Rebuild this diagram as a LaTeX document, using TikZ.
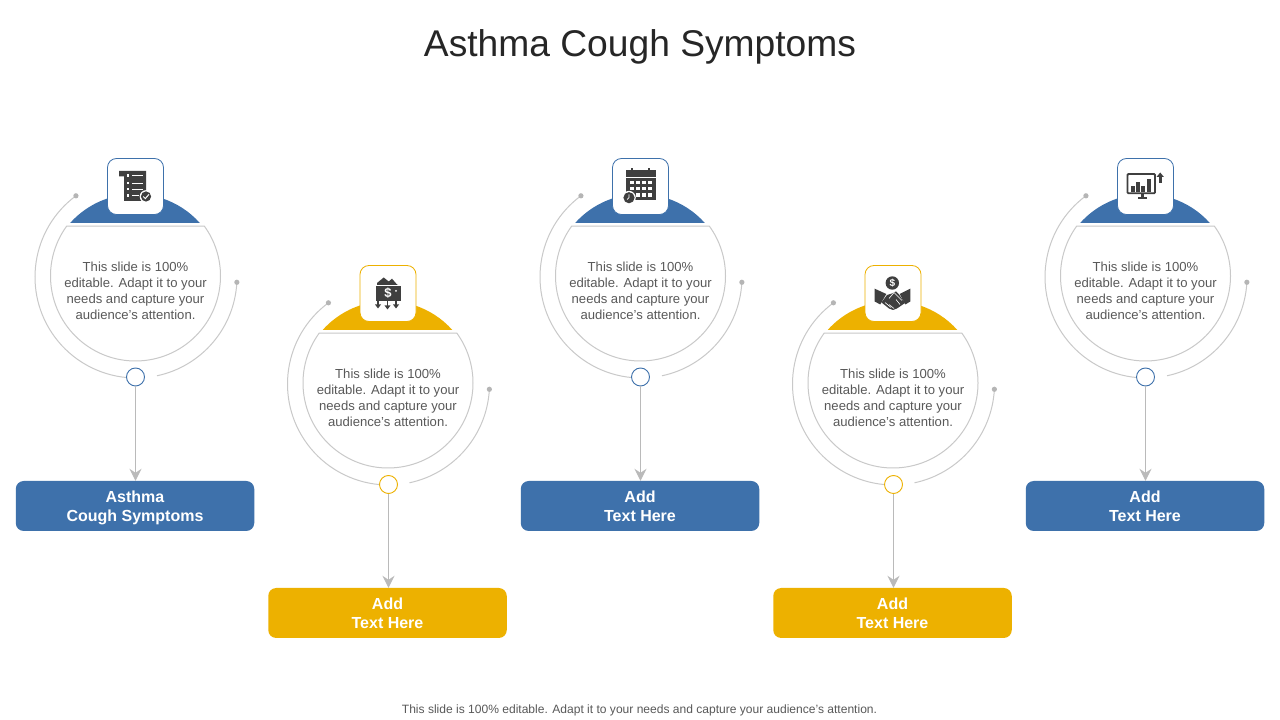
\documentclass[tikz,border=0pt]{standalone}
\usepackage{fontspec}
\setmainfont{Liberation Sans}
\usepackage{tikz}
\usetikzlibrary{arrows.meta}

\definecolor{blueband}{HTML}{3E71AB}
\definecolor{yellowband}{HTML}{EDB100}
\definecolor{ringgray}{HTML}{C9C9C9}
\definecolor{arrowgray}{HTML}{BABABA}
\definecolor{icondark}{HTML}{3F3F3F}
\definecolor{textgray}{HTML}{595959}

\tikzset{
  titletext/.style={text=black!85,font=\fontsize{37.2}{42}\selectfont,inner sep=0pt},
  foottext/.style={text=textgray,font=\fontsize{12.05}{14}\selectfont,inner sep=0pt},
  bodytext/.style={text=textgray,font=\fontsize{13.1}{16}\selectfont,align=center,inner sep=0pt},
  labelbox/.style={fill=#1,rounded corners=8pt,minimum width=238.5pt,minimum height=50pt,inner sep=0pt,
    text=white,align=center,font=\bfseries\fontsize{16}{19}\selectfont},
  iconbox/.style={draw=#1,fill=white,line width=.8pt,rounded corners=9pt,minimum size=56pt,inner sep=0pt},
  ringdot/.style={draw=#1,fill=white,circle,line width=.9pt,minimum size=18pt,inner sep=0pt},
  ringline/.style={draw=ringgray,line width=1pt},
  flow/.style={draw=arrowgray,line width=1.2pt,-{Stealth[length=12pt,width=12pt,inset=4pt]}},
  iconfill/.style={fill=icondark,draw=none},
  iconcut/.style={fill=white,draw=none},
}

% band, inner circle and the two outer arcs of one ring, #1,#2 = middle of the ring
\newcommand{\ringarcs}[3]{
  \fill[#3] (#1-.5,#2-4) ++(41.9:87) arc (41.9:138.1:87) -- cycle;
  \draw[ringline] (#1,#2+1) ++(144:85) arc (144:396:85) -- cycle;
  \draw[ringline] (#1+.5,#2) ++(126.5:101) arc (126.5:265:101);
  \draw[ringline] (#1+.5,#2) ++(282:101) arc (282:357:101);
  \fill[ringgray!90!black] (#1+.5,#2) ++(126.5:101) circle (2.6);
  \fill[ringgray!90!black] (#1+.5,#2) ++(357:101) circle (2.6);
}

\begin{document}
\begin{tikzpicture}[x=1pt,y=1pt]
   \useasboundingbox (0,0) rectangle (1280,720);
   \fill[white] (0,0) rectangle (1280,720);

   \node[titletext] (title) at (640,673) {Asthma Cough Symptoms};
   \node[foottext] (foot) at (639.5,10) {This slide is 100\% editable. Adapt it to your needs and capture your audience's attention.};

   \ringarcs{135.5}{443}{blueband}
   \ringarcs{388}{336}{yellowband}
   \ringarcs{640.5}{443}{blueband}
   \ringarcs{893}{336}{yellowband}
   \ringarcs{1145.5}{443}{blueband}

   \node[iconbox=blueband] (icon1) at (135.5,533.5) {};
   \node[iconbox=yellowband] (icon2) at (388,426.5) {};
   \node[iconbox=blueband] (icon3) at (640.5,533.5) {};
   \node[iconbox=yellowband] (icon4) at (893,426.5) {};
   \node[iconbox=blueband] (icon5) at (1145.5,533.5) {};

   \node[bodytext] (text1) at (135.5,429) {This slide is 100\%\\editable. Adapt it to your\\needs and capture your\\audience's attention.};
   \node[bodytext] (text2) at (388,322) {This slide is 100\%\\editable. Adapt it to your\\needs and capture your\\audience's attention.};
   \node[bodytext] (text3) at (640.5,429) {This slide is 100\%\\editable. Adapt it to your\\needs and capture your\\audience's attention.};
   \node[bodytext] (text4) at (893,322) {This slide is 100\%\\editable. Adapt it to your\\needs and capture your\\audience's attention.};
   \node[bodytext] (text5) at (1145.5,429) {This slide is 100\%\\editable. Adapt it to your\\needs and capture your\\audience's attention.};

   \node[ringdot=blueband] (dot1) at (135.5,343) {};
   \node[ringdot=yellowband] (dot2) at (388.5,235.5) {};
   \node[ringdot=blueband] (dot3) at (640.5,343) {};
   \node[ringdot=yellowband] (dot4) at (893.5,235.5) {};
   \node[ringdot=blueband] (dot5) at (1145.5,343) {};

   \node[labelbox=blueband] (label1) at (135,214) {Asthma\\\leavevmode\smash{Cough Symptoms}};
   \node[labelbox=yellowband] (label2) at (387.5,107) {Add\\Text Here};
   \node[labelbox=blueband] (label3) at (640,214) {Add\\Text Here};
   \node[labelbox=yellowband] (label4) at (892.5,107) {Add\\Text Here};
   \node[labelbox=blueband] (label5) at (1145,214) {Add\\Text Here};

   \draw[flow] (dot1) -- (dot1 |- label1.north);
   \draw[flow] (dot2) -- (dot2 |- label2.north);
   \draw[flow] (dot3) -- (dot3 |- label3.north);
   \draw[flow] (dot4) -- (dot4 |- label4.north);
   \draw[flow] (dot5) -- (dot5 |- label5.north);

   % scroll with check
   \begin{scope}[shift={(icon1.center)}]
      \fill[iconfill] (-16.5,15.7) -- (10.5,15.7) -- (10.5,-14.3) -- (-11.5,-14.3) -- (-11.5,10) -- (-16.5,10) -- cycle;
      \fill[iconcut] (-9,12) rectangle (-6.5,9.5);
      \fill[iconcut] (-9,4.7) rectangle (-6.5,2.2);
      \fill[iconcut] (-9,-1.3) rectangle (-6.5,-3.8);
      \fill[iconcut] (-9,-8) rectangle (-6.5,-10.5);
      \fill[iconcut] (-4,11.2) rectangle (7.8,10.3);
      \fill[iconcut] (-4,3.9) rectangle (7.8,3);
      \fill[iconcut] (-4,-2.1) rectangle (7.8,-3);
      \fill[iconcut] (-4,-8.8) rectangle (3,-9.7);
      \fill[white] (10.5,-10) circle (6.3);
      \fill[iconfill] (10.5,-10) circle (5.1);
      \draw[white,line width=1pt] (7.8,-10) -- (9.8,-12.1) -- (13.4,-7.9);
   \end{scope}

   % wallet with falling notes
   \begin{scope}[shift={(icon2.center)}]
      \fill[iconfill] (-11,10.5) -- (-4.3,16) -- (0.7,12) -- (4,14.8) -- (9,9) -- (11,8) -- (-11,8) -- cycle;
      \fill[iconfill] (-12,8.3) rectangle (13,-7.5);
      \fill[iconcut] (-12,8.8) rectangle (13,8.2);
      \node[text=white,font=\bfseries\fontsize{13}{13}\selectfont,inner sep=0pt] (money2) at (0,0.5) {\$};
      \fill[iconcut] (8,2.5) circle (1);
      \draw[icondark,line width=1.6pt] (-10,-7.5) -- (-10,-12);
      \draw[icondark,line width=1.6pt] (-0.5,-7.5) -- (-0.5,-13);
      \draw[icondark,line width=1.6pt] (8,-7.5) -- (8,-12);
      \fill[iconfill] (-13,-11) -- (-7,-11) -- (-10,-15) -- cycle;
      \fill[iconfill] (-3.5,-12) -- (2.5,-12) -- (-0.5,-16) -- cycle;
      \fill[iconfill] (5,-11) -- (11,-11) -- (8,-15) -- cycle;
   \end{scope}

   % calendar with clock
   \begin{scope}[shift={(icon3.center)}]
      \fill[iconfill] (-15,16.5) rectangle (15,-13.5);
      \fill[iconcut] (-15,9.2) rectangle (15,8.6);
      \draw[icondark,line width=1.6pt] (-8.5,14) -- (-8.5,18.5);
      \draw[icondark,line width=1.6pt] (8.5,14) -- (8.5,18.5);
      \fill[iconcut] (-10.1,5.9) rectangle (-6.2,2);
      \fill[iconcut] (-4.1,5.9) rectangle (-0.2,2);
      \fill[iconcut] (1.9,5.9) rectangle (5.8,2);
      \fill[iconcut] (7.6,5.9) rectangle (11.5,2);
      \fill[iconcut] (-10.1,-0.1) rectangle (-6.2,-4);
      \fill[iconcut] (-4.1,-0.1) rectangle (-0.2,-4);
      \fill[iconcut] (1.9,-0.1) rectangle (5.8,-4);
      \fill[iconcut] (7.6,-0.1) rectangle (11.5,-4);
      \fill[iconcut] (-4.1,-6.4) rectangle (-0.2,-10.3);
      \fill[iconcut] (1.9,-6.4) rectangle (5.8,-10.3);
      \fill[iconcut] (7.6,-6.4) rectangle (11.5,-10.3);
      \fill[white] (-11.5,-11.2) circle (6.8);
      \fill[iconfill] (-11.5,-11.2) circle (5.6);
      \draw[white,line width=.7pt] (-11.5,-7.8) -- (-11.5,-11.2) -- (-13.5,-13);
   \end{scope}

   % handshake under coin
   \begin{scope}[shift={(icon4.center)}]
      \fill[iconfill] (-0.7,10.5) circle (6.7);
      \node[text=white,font=\bfseries\fontsize{10}{10}\selectfont,inner sep=0pt] (money4) at (-0.7,10.5) {\$};
      \fill[iconfill] (-18.3,4.8) -- (-6.7,-0.5) -- (-12.7,-11) -- (-18.3,-8) -- cycle;
      \fill[iconfill] (17.3,4.8) -- (6.7,-0.5) -- (12.3,-11) -- (17.3,-8) -- cycle;
      \fill[iconfill] (-11.5,-9) -- (-6,-1.5) -- (-1,0) -- (3,2) -- (6,-1) -- (12,-9.5) -- (4,-15) -- (0,-16.5) -- (-4,-15) -- cycle;
      \draw[white,line width=.6pt] (-4,-5) -- (1,1) -- (9,-7);
      \draw[white,line width=.6pt] (-8,-9) -- (-2,-14);
      \draw[white,line width=.6pt] (-4,-11) -- (1,-15);
      \draw[white,line width=.6pt] (3,-6) -- (7,-11);
   \end{scope}

   % monitor with rising bars
   \begin{scope}[shift={(icon5.center)}]
      \draw[icondark,line width=1.8pt,rounded corners=1pt] (-18,12.5) rectangle (9.5,-6.8);
      \fill[iconfill] (-14.8,0.5) rectangle (-10.5,-5.2);
      \fill[iconfill] (-9.5,4.8) rectangle (-5.5,-5.2);
      \fill[iconfill] (-4.5,0.5) rectangle (-0.5,-5.2);
      \fill[iconfill] (1.2,7.2) rectangle (5.2,-5.2);
      \fill[iconfill] (-4.7,-6.5) rectangle (-1.7,-11.5);
      \fill[iconfill] (-7.8,-11) rectangle (1.8,-13);
      \fill[iconfill] (13.2,3.2) rectangle (16.5,9.5);
      \fill[iconfill] (11,9.5) -- (18.4,9.5) -- (14.7,14) -- cycle;
   \end{scope}
\end{tikzpicture}
\end{document}
